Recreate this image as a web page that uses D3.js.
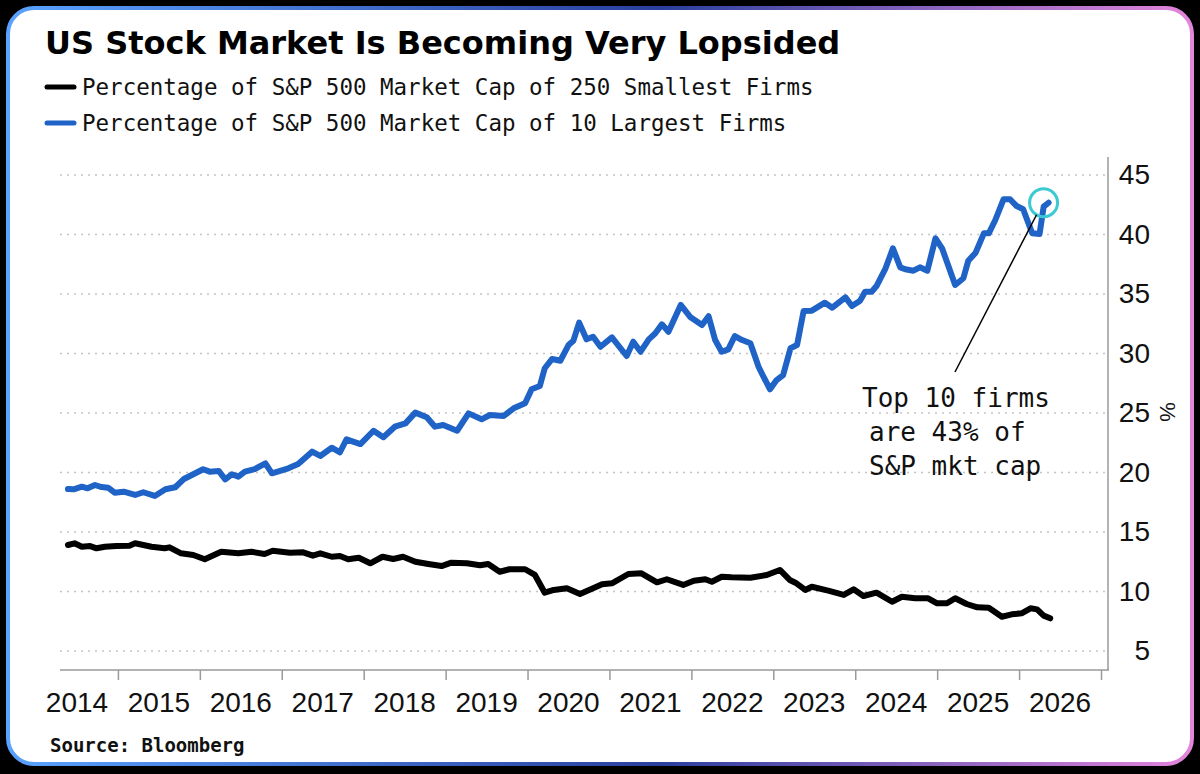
<!DOCTYPE html>
<html>
<head>
<meta charset="utf-8">
<script src="https://cdn.jsdelivr.net/npm/d3@7"></script>
<style>
  body { margin: 0; background: #000; }
  svg { display: block; }
</style>
</head>
<body>
<svg id="chart"></svg>
<script>
// US Stock Market Is Becoming Very Lopsided

var titleText = "US Stock Market Is Becoming Very Lopsided";
var seriesNames = ["Percentage of S&P 500 Market Cap of 250 Smallest Firms",
                   "Percentage of S&P 500 Market Cap of 10 Largest Firms"];
var yearLabels = ["2014", "2015", "2016", "2017", "2018", "2019", "2020",
                  "2021", "2022", "2023", "2024", "2025", "2026"];
var yTicks = [5, 10, 15, 20, 25, 30, 35, 40, 45];

// 10 largest firms (blue), time in decimal years
var largeT = [2014.39, 2014.46, 2014.56, 2014.63, 2014.72, 2014.80, 2014.88, 2014.96, 2015.07, 2015.21,
              2015.31, 2015.45, 2015.58, 2015.70, 2015.80, 2015.92, 2016.04, 2016.12, 2016.23, 2016.31,
              2016.39, 2016.47, 2016.55, 2016.67, 2016.80, 2016.88, 2017.08, 2017.20, 2017.37, 2017.47,
              2017.61, 2017.71, 2017.79, 2017.96, 2018.12, 2018.24, 2018.38, 2018.51, 2018.63, 2018.77,
              2018.87, 2018.97, 2019.14, 2019.28, 2019.44, 2019.54, 2019.71, 2019.83, 2019.97, 2020.05,
              2020.15, 2020.21, 2020.30, 2020.40, 2020.50, 2020.56, 2020.63, 2020.72, 2020.80, 2020.89,
              2021.03, 2021.21, 2021.29, 2021.38, 2021.48, 2021.56, 2021.64, 2021.72, 2021.87, 2021.99,
              2022.13, 2022.21, 2022.29, 2022.37, 2022.45, 2022.53, 2022.62, 2022.72, 2022.82, 2022.88,
              2022.96, 2023.04, 2023.12, 2023.21, 2023.29, 2023.37, 2023.47, 2023.63, 2023.72, 2023.88,
              2023.96, 2024.06, 2024.12, 2024.20, 2024.26, 2024.37, 2024.46, 2024.55, 2024.61, 2024.71,
              2024.79, 2024.88, 2024.98, 2025.06, 2025.22, 2025.32, 2025.38, 2025.47, 2025.57, 2025.63,
              2025.71, 2025.81, 2025.89, 2025.97, 2026.05, 2026.16, 2026.25, 2026.30, 2026.36];
var largeV = [18.61, 18.59, 18.81, 18.67, 18.95, 18.78, 18.72, 18.30, 18.39, 18.11,
              18.34, 18.03, 18.59, 18.76, 19.43, 19.85, 20.27, 20.07, 20.13, 19.43,
              19.85, 19.65, 20.07, 20.29, 20.77, 19.93, 20.35, 20.71, 21.75, 21.39,
              22.08, 21.70, 22.79, 22.39, 23.51, 22.96, 23.85, 24.13, 25.03, 24.64,
              23.85, 23.99, 23.51, 24.97, 24.47, 24.83, 24.75, 25.39, 25.82, 26.99,
              27.27, 28.76, 29.54, 29.39, 30.71, 31.08, 32.59, 31.19, 31.41, 30.57,
              31.36, 29.79, 30.99, 30.15, 31.19, 31.70, 32.45, 31.83, 34.08, 33.04,
              32.39, 33.13, 31.13, 30.15, 30.35, 31.47, 31.13, 30.86, 28.89, 28.05,
              26.99, 27.77, 28.19, 30.44, 30.71, 33.57, 33.60, 34.27, 33.85, 34.72,
              33.99, 34.44, 35.19, 35.19, 35.67, 37.16, 38.84, 37.24, 37.08, 36.96,
              37.24, 36.96, 39.68, 38.84, 35.76, 36.32, 37.80, 38.47, 40.10, 40.10,
              41.22, 42.96, 42.96, 42.39, 42.12, 40.10, 40.04, 42.34, 42.67];

// 250 smallest firms (black)
var smallT = [2014.39, 2014.47, 2014.56, 2014.66, 2014.74, 2014.84, 2014.98, 2015.14, 2015.21, 2015.41,
              2015.57, 2015.63, 2015.77, 2015.92, 2016.06, 2016.26, 2016.47, 2016.63, 2016.79, 2016.89,
              2017.10, 2017.26, 2017.38, 2017.47, 2017.61, 2017.71, 2017.81, 2017.94, 2018.08, 2018.23,
              2018.36, 2018.48, 2018.63, 2018.79, 2018.95, 2019.07, 2019.26, 2019.42, 2019.52, 2019.66,
              2019.78, 2019.97, 2020.09, 2020.21, 2020.32, 2020.48, 2020.64, 2020.80, 2020.91, 2021.03,
              2021.23, 2021.39, 2021.58, 2021.70, 2021.90, 2022.03, 2022.17, 2022.25, 2022.37, 2022.49,
              2022.72, 2022.92, 2023.08, 2023.20, 2023.27, 2023.39, 2023.47, 2023.67, 2023.86, 2023.98,
              2024.10, 2024.26, 2024.45, 2024.57, 2024.73, 2024.89, 2025.00, 2025.12, 2025.22, 2025.36,
              2025.49, 2025.63, 2025.79, 2025.91, 2026.03, 2026.14, 2026.22, 2026.30, 2026.38];
var smallV = [13.91, 14.05, 13.76, 13.82, 13.63, 13.76, 13.82, 13.85, 14.05, 13.76,
              13.63, 13.71, 13.21, 13.07, 12.71, 13.34, 13.21, 13.34, 13.15, 13.43,
              13.26, 13.29, 13.01, 13.21, 12.92, 12.98, 12.71, 12.84, 12.37, 12.92,
              12.73, 12.92, 12.50, 12.31, 12.14, 12.42, 12.37, 12.20, 12.31, 11.66,
              11.87, 11.87, 11.39, 9.90, 10.13, 10.27, 9.79, 10.27, 10.61, 10.69,
              11.47, 11.53, 10.77, 11.03, 10.55, 10.91, 11.03, 10.82, 11.24, 11.19,
              11.16, 11.39, 11.81, 10.97, 10.74, 10.13, 10.40, 10.07, 9.71, 10.18,
              9.62, 9.90, 9.14, 9.56, 9.43, 9.43, 9.01, 9.01, 9.43, 8.95,
              8.67, 8.64, 7.88, 8.08, 8.17, 8.59, 8.50, 7.97, 7.75];

var svgWidth = 1200, svgHeight = 774;
var plotLeft = 60, plotRight = 1108, plotTop = 157, plotBottom = 670;

var svg = d3.select('#chart')
    .attr('width', svgWidth)
    .attr('height', svgHeight);

// card with gradient border
var defs = svg.append('defs');
var grad = defs.append('linearGradient').attr('id', 'border')
    .attr('x1', '0%').attr('y1', '0%').attr('x2', '100%').attr('y2', '0%');
grad.append('stop').attr('offset', '0%').attr('stop-color', '#5aa2ff');
grad.append('stop').attr('offset', '55%').attr('stop-color', '#2a3f9e');
grad.append('stop').attr('offset', '100%').attr('stop-color', '#e385dc');

svg.append('rect').attr('width', svgWidth).attr('height', svgHeight).attr('fill', '#000');
svg.append('rect')
    .attr('x', 8).attr('y', 8).attr('width', 1184).attr('height', 756)
    .attr('rx', 26)
    .attr('fill', '#fff')
    .attr('stroke', 'url(#border)')
    .attr('stroke-width', 4);

var x = d3.scaleLinear().domain([2014, 2027]).range([36, 1101]);
var y = d3.scaleLinear().domain([5, 45]).range([651, 175]);

// gridlines
svg.append('g').selectAll('line')
    .data(yTicks)
    .enter()
    .append('line')
    .attr('x1', plotLeft).attr('x2', plotRight)
    .attr('y1', function(d) { return y(d); })
    .attr('y2', function(d) { return y(d); })
    .attr('stroke', '#c4c4c4')
    .attr('stroke-width', 1.5)
    .attr('stroke-dasharray', '2,5');

// bottom axis: ticks at year boundaries, labels mid-year
var xAxis = d3.axisBottom(x)
    .tickValues(d3.range(2015, 2028))
    .tickSize(10)
    .tickFormat('');
var gx = svg.append('g').attr('transform', 'translate(0,' + plotBottom + ')').call(xAxis);
gx.select('.domain').remove();
gx.selectAll('.tick line').attr('stroke', '#9a9a9a').attr('stroke-width', 1.5);

svg.append('line')
    .attr('x1', plotLeft).attr('x2', plotRight + 1)
    .attr('y1', plotBottom).attr('y2', plotBottom)
    .attr('stroke', '#9a9a9a').attr('stroke-width', 1.5);

svg.append('g').selectAll('text')
    .data(yearLabels)
    .enter()
    .append('text')
    .attr('x', function(d) { return x(+d + 0.5); })
    .attr('y', 712)
    .attr('text-anchor', 'middle')
    .attr('font-family', 'Liberation Sans, Arial, sans-serif')
    .attr('font-size', 28)
    .attr('fill', '#111')
    .text(function(d) { return d; });

// right axis
var yAxis = d3.axisRight(y).tickValues(yTicks).tickSize(0).tickPadding(0);
var gy = svg.append('g').attr('transform', 'translate(' + plotRight + ',0)').call(yAxis);
gy.select('.domain').remove();
gy.selectAll('.tick text')
    .attr('x', 42)
    .attr('text-anchor', 'end')
    .attr('font-family', 'Liberation Sans, Arial, sans-serif')
    .attr('font-size', 28)
    .attr('fill', '#111');

svg.append('line')
    .attr('x1', plotRight).attr('x2', plotRight)
    .attr('y1', plotTop).attr('y2', plotBottom)
    .attr('stroke', '#9a9a9a').attr('stroke-width', 1.5);

svg.append('text')
    .attr('transform', 'translate(1160,412) rotate(90)')
    .attr('text-anchor', 'middle')
    .attr('font-family', 'Liberation Sans, Arial, sans-serif')
    .attr('font-size', 22)
    .attr('fill', '#111')
    .text('%');

// lines
var line = d3.line()
    .x(function(d) { return x(d[0]); })
    .y(function(d) { return y(d[1]); });

var smallData = d3.zip(smallT, smallV);
var largeData = d3.zip(largeT, largeV);

svg.append('path')
    .datum(smallData)
    .attr('d', line)
    .attr('fill', 'none')
    .attr('stroke', '#000')
    .attr('stroke-width', 6)
    .attr('stroke-linejoin', 'round')
    .attr('stroke-linecap', 'round');

svg.append('path')
    .datum(largeData)
    .attr('d', line)
    .attr('fill', 'none')
    .attr('stroke', '#1f63c6')
    .attr('stroke-width', 6)
    .attr('stroke-linejoin', 'round')
    .attr('stroke-linecap', 'round');

// annotation
var last = largeData[largeData.length - 1];
var cx = x(last[0]) - 5, cy = y(last[1]);
svg.append('circle')
    .attr('cx', cx).attr('cy', cy).attr('r', 14)
    .attr('fill', 'none')
    .attr('stroke', '#3cc9d2')
    .attr('stroke-width', 3);

svg.append('line')
    .attr('x1', 955).attr('y1', 372)
    .attr('x2', cx - 7).attr('y2', cy + 12)
    .attr('stroke', '#000')
    .attr('stroke-width', 1.5);

var noteLines = ["Top 10 firms", "are 43% of", "S&P mkt cap"];
svg.append('g').selectAll('text')
    .data(noteLines)
    .enter()
    .append('text')
    .attr('x', function(d, i) { return i === 0 ? 862 : 869; })
    .attr('y', function(d, i) { return 407 + i * 34; })
    .attr('font-family', 'DejaVu Sans Mono, monospace')
    .attr('font-size', 26)
    .attr('fill', '#111')
    .text(function(d) { return d; });

// title, legend, source
svg.append('text')
    .attr('x', 45).attr('y', 54)
    .attr('font-family', 'DejaVu Sans, sans-serif')
    .attr('font-weight', 'bold')
    .attr('font-size', 32)
    .attr('fill', '#000')
    .text(titleText);

var legendColors = ['#000', '#1f63c6'];
var legend = svg.append('g').selectAll('g')
    .data(seriesNames)
    .enter()
    .append('g')
    .attr('transform', function(d, i) { return 'translate(0,' + (87 + i * 36) + ')'; });
legend.append('line')
    .attr('x1', 47).attr('x2', 74)
    .attr('stroke', function(d, i) { return legendColors[i]; })
    .attr('stroke-width', 5)
    .attr('stroke-linecap', 'round');
legend.append('text')
    .attr('x', 82).attr('y', 8)
    .attr('font-family', 'DejaVu Sans Mono, monospace')
    .attr('font-size', 22.5)
    .attr('fill', '#111')
    .text(function(d) { return d; });

svg.append('text')
    .attr('x', 50).attr('y', 752)
    .attr('font-family', 'DejaVu Sans Mono, monospace')
    .attr('font-weight', 'bold')
    .attr('font-size', 19)
    .attr('fill', '#111')
    .text('Source: Bloomberg');
</script>
</body>
</html>
